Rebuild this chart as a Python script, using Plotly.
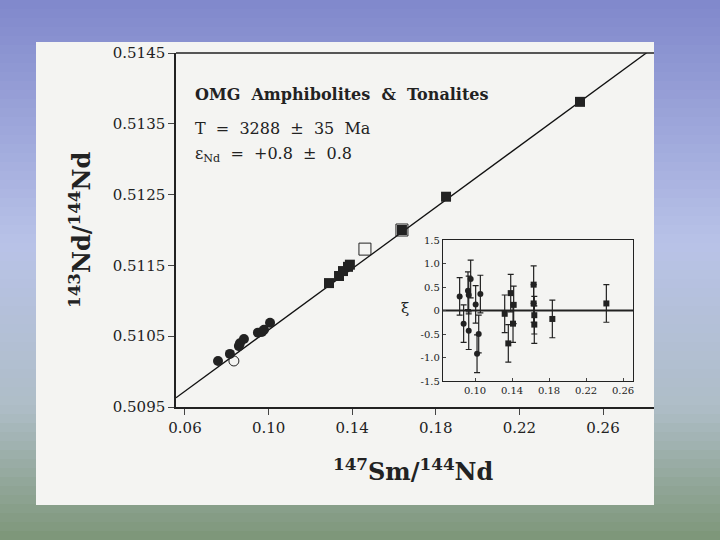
import plotly.graph_objects as go

# main isochron data
circ_x = [0.0758, 0.0815, 0.0858, 0.0863, 0.0882, 0.0949, 0.0968, 0.0978, 0.1007]
circ_y = [0.51015, 0.51025, 0.51036, 0.51040, 0.51046, 0.51055, 0.51056, 0.51059, 0.51069]
open_circ_x = [0.0834]
open_circ_y = [0.51015]
sq_x = [0.1289, 0.1337, 0.1356, 0.1380, 0.1389, 0.1638, 0.1849, 0.2490]
sq_y = [0.51125, 0.51135, 0.51142, 0.51148, 0.51151, 0.51200, 0.51247, 0.51381]
open_sq_x = [0.1461, 0.1638]
open_sq_y = [0.51173, 0.51200]
line_x = [0.0557, 0.2844]
line_y = [0.50963, 0.51458]

# residuals inset
res_x = [0.0834, 0.0877, 0.0924, 0.0932, 0.0932, 0.0953, 0.1007, 0.1022, 0.1040, 0.1058,
         0.1321, 0.1360, 0.1386, 0.1411, 0.1418, 0.1634, 0.1634, 0.1641, 0.1641, 0.1836, 0.2420]
res_y = [0.30, -0.28, 0.42, 0.33, -0.43, 0.67, 0.13, -0.92, -0.50, 0.35,
         -0.07, -0.70, 0.37, -0.28, 0.12, 0.55, 0.15, -0.10, -0.30, -0.18, 0.15]
res_err = 0.4

serif = "DejaVu Serif"
fig = go.Figure()

# slide background gradient (top -> middle -> bottom)
stops = [(0.0, (128, 136, 204)), (0.45, (185, 195, 232)), (0.75, (175, 190, 200)), (1.0, (125, 150, 120))]
n = 60
for i in range(n):
    t = (i + 0.5) / n
    for (t0, c0), (t1, c1) in zip(stops[:-1], stops[1:]):
        if t0 <= t <= t1:
            f = (t - t0) / (t1 - t0)
            c = tuple(int(c0[k] + (c1[k] - c0[k]) * f) for k in range(3))
            break
    fig.add_shape(type="rect", xref="paper", yref="paper", x0=0, x1=1,
                  y0=1 - (i + 1) / n, y1=1 - i / n, line_width=0,
                  fillcolor="rgb(%d,%d,%d)" % c, layer="below")
fig.add_shape(type="rect", xref="paper", yref="paper", x0=36/720, x1=654/720,
              y0=1-505/540, y1=1-42/540, line_width=0, fillcolor="#f4f4f2", layer="below")
fig.add_shape(type="line", xref="paper", yref="paper", x0=176/720, x1=654/720,
              y0=1-53/540, y1=1-53/540, line=dict(color="#222", width=1.5))

fig.add_trace(go.Scatter(x=line_x, y=line_y, mode="lines", line=dict(color="#111", width=1.3)))
fig.add_trace(go.Scatter(x=circ_x, y=circ_y, mode="markers",
                         marker=dict(symbol="circle", size=10, color="#222")))
fig.add_trace(go.Scatter(x=open_circ_x, y=open_circ_y, mode="markers",
                         marker=dict(symbol="circle-open", size=10, color="#222")))
fig.add_trace(go.Scatter(x=sq_x, y=sq_y, mode="markers",
                         marker=dict(symbol="square", size=10, color="#222")))
fig.add_trace(go.Scatter(x=open_sq_x, y=open_sq_y, mode="markers",
                         marker=dict(symbol="square-open", size=12, color="#222")))

fig.add_trace(go.Scatter(x=[0.0654, 0.2708], y=[0, 0], mode="lines", xaxis="x2", yaxis="y2",
                         line=dict(color="#222", width=2)))
fig.add_trace(go.Scatter(
    x=[v for v in res_x if v < 0.11], y=[r for v, r in zip(res_x, res_y) if v < 0.11],
    mode="markers", xaxis="x2", yaxis="y2",
    error_y=dict(type="constant", value=res_err, color="#222", thickness=1.2, width=3),
    marker=dict(symbol="circle", size=6, color="#222")))
fig.add_trace(go.Scatter(
    x=[v for v in res_x if v >= 0.11], y=[r for v, r in zip(res_x, res_y) if v >= 0.11],
    mode="markers", xaxis="x2", yaxis="y2",
    error_y=dict(type="constant", value=res_err, color="#222", thickness=1.2, width=3),
    marker=dict(symbol="square", size=6, color="#222")))

fig.update_layout(
    width=720, height=540, margin=dict(l=0, r=0, t=0, b=0, pad=0, autoexpand=False),
    paper_bgcolor="#a0a8d8", plot_bgcolor="rgba(0,0,0,0)", showlegend=False,
    font=dict(family=serif, color="#222"),
    xaxis=dict(domain=[176/720, 654/720], range=[0.0557, 0.2844],
               tickvals=[0.06, 0.10, 0.14, 0.18, 0.22, 0.26],
               ticktext=["0.06", "0.10", "0.14", "0.18", "0.22", "0.26"],
               ticks="outside", ticklen=6, showgrid=False, zeroline=False,
               showline=True, linecolor="#222", linewidth=1.5,
               tickfont=dict(size=15, family=serif)),
    yaxis=dict(domain=[1-407/540, 1-53/540], range=[0.5095, 0.5145],
               tickvals=[0.5095, 0.5105, 0.5115, 0.5125, 0.5135, 0.5145],
               tickformat=".4f", ticks="outside", ticklen=6, showgrid=False, zeroline=False,
               showline=True, linecolor="#222", linewidth=1.5,
               tickfont=dict(size=15, family=serif)),
    xaxis2=dict(domain=[443/720, 633/720], range=[0.0654, 0.2708], anchor="y2",
                tickvals=[0.06, 0.10, 0.14, 0.18, 0.22, 0.26],
                ticktext=["0.06", "0.10", "0.14", "0.18", "0.22", "0.26"],
                ticks="inside", ticklen=3, showgrid=False, zeroline=False, mirror=True,
                showline=True, linecolor="#222", linewidth=1.2,
                tickfont=dict(size=10, family=serif)),
    yaxis2=dict(domain=[1-381/540, 1-240/540], range=[-1.5, 1.5], anchor="x2",
                tickvals=[-1.5, -1.0, -0.5, 0, 0.5, 1.0, 1.5],
                ticktext=["-1.5", "-1.0", "-0.5", "0", "0.5", "1.0", "1.5"],
                ticks="inside", ticklen=3, showgrid=False, zeroline=False, mirror=True,
                showline=True, linecolor="#222", linewidth=1.2,
                tickfont=dict(size=10, family=serif)),
)

fig.add_annotation(x=193/720, y=1-83/540, xref="paper", yref="paper", xanchor="left",
                   showarrow=False, text="<b>OMG  Amphibolites  &  Tonalites</b>",
                   font=dict(size=16, family=serif))
fig.add_annotation(x=193/720, y=1-117/540, xref="paper", yref="paper", xanchor="left",
                   showarrow=False, text="T  =  3288  ±  35  Ma", font=dict(size=16, family=serif))
fig.add_annotation(x=193/720, y=1-142/540, xref="paper", yref="paper", xanchor="left",
                   showarrow=False, text="ε<sub>Nd</sub>  =  +0.8  ±  0.8",
                   font=dict(size=16, family=serif))
fig.add_annotation(x=62/720, y=1-230/540, xref="paper", yref="paper", textangle=-90,
                   showarrow=False, text="<b><sup>143</sup>Nd/<sup>144</sup>Nd</b>",
                   font=dict(size=24, family=serif))
fig.add_annotation(x=413/720, y=1-488/540, xref="paper", yref="paper",
                   showarrow=False, text="<b><sup>147</sup>Sm/<sup>144</sup>Nd</b>",
                   font=dict(size=24, family=serif))
fig.add_annotation(x=405/720, y=1-308/540, xref="paper", yref="paper",
                   showarrow=False, text="ξ", font=dict(size=15, family=serif))

fig.write_html("out.html", config={"displayModeBar": False},
               post_script="document.body.style.margin='0';document.body.style.overflow='hidden';")
